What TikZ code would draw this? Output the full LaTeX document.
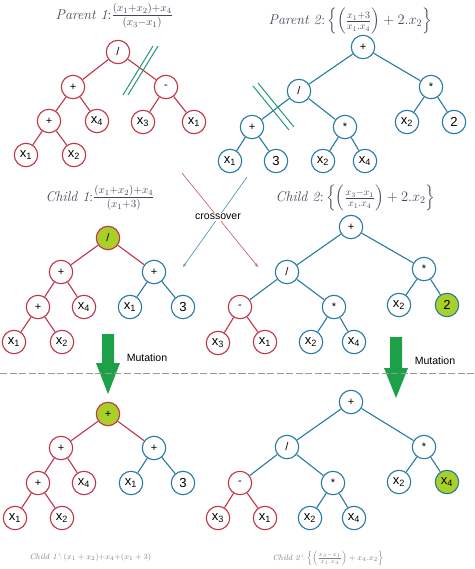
\documentclass[tikz,border=0pt]{standalone}
\usepackage{amsmath}
\usepackage{fontspec}
\setsansfont{Liberation Sans}
\usetikzlibrary{arrows.meta}
\definecolor{gpred}{RGB}{192,52,72}
\definecolor{gpblue}{RGB}{40,122,165}
\definecolor{gplime}{RGB}{168,208,40}
\definecolor{gpgreen}{RGB}{28,160,72}
\definecolor{gpcut}{RGB}{40,150,125}
\definecolor{gptitle}{RGB}{70,72,90}
\newcommand{\xs}[1]{x\textsubscript{#1}}
\newcommand{\bigmath}[1]{{\fontsize{16}{18}\selectfont#1}}
\tikzset{
  gnode/.style={circle, line width=1.1pt, minimum size=0.82cm, inner sep=0pt, fill=white,
    font=\sffamily\fontsize{13}{14}\selectfont},
  rnode/.style={gnode, draw=gpred},
  bnode/.style={gnode, draw=gpblue},
  op/.style={font=\sffamily\fontsize{11}{12}\selectfont},
  mutated/.style={fill=gplime},
  redge/.style={draw=gpred, line width=1.1pt},
  bedge/.style={draw=gpblue, line width=1.1pt},
  cutmark/.style={draw=gpcut, line width=1pt},
  titletext/.style={anchor=west, inner sep=0.5pt, text=gptitle, font=\fontsize{14}{16}\selectfont},
  captext/.style={anchor=west, text=gray, font=\fontsize{8}{9}\selectfont},
  labtext/.style={font=\sffamily\fontsize{10.5}{12}\selectfont}
}

\begin{document}
\begin{tikzpicture}[x=0.035cm, y=-0.035cm]
  \useasboundingbox (0,0) rectangle (474,569);

  % 親1
  \node[titletext] (t1) at (55,16) {\textit{Parent 1}:\bigmath{$\frac{(x_1+x_2)+x_4}{(x_3-x_1)}$}};
  \node[rnode, op] (p1r) at (118,52) {/};
  \node[rnode, op] (p1a) at (73,87) {+};
  \node[rnode, op] (p1b) at (166,87) {-};
  \node[rnode, op] (p1c) at (49,121) {+};
  \node[rnode] (p1d) at (97,121) {\xs{4}};
  \node[rnode] (p1e) at (143,122) {\xs{3}};
  \node[rnode] (p1f) at (194,122) {\xs{1}};
  \node[rnode] (p1g) at (26,155) {\xs{1}};
  \node[rnode] (p1h) at (74,155) {\xs{2}};
  \draw[redge] (p1r) -- (p1a);
  \draw[redge] (p1r) -- (p1b);
  \draw[redge] (p1a) -- (p1c);
  \draw[redge] (p1a) -- (p1d);
  \draw[redge] (p1b) -- (p1e);
  \draw[redge] (p1b) -- (p1f);
  \draw[redge] (p1c) -- (p1g);
  \draw[redge] (p1c) -- (p1h);
  \draw[cutmark] (123,95) -- (153,46);
  \draw[cutmark] (128,95) -- (158,46);

  % 親2
  \node[titletext] (t2) at (268,21) {\textit{Parent 2}:\,$\Bigl\{\Bigl(\frac{x_1+3}{x_1.x_4}\Bigr)+2.x_2\Bigr\}$};
  \node[bnode, op] (p2r) at (363,47) {+};
  \node[bnode, op] (p2a) at (299,91) {/};
  \node[bnode, op] (p2b) at (431,87) {*};
  \node[bnode, op] (p2c) at (252,127) {+};
  \node[bnode, op] (p2d) at (345,127) {*};
  \node[bnode] (p2e) at (407,122) {\xs{2}};
  \node[bnode] (p2f) at (454,122) {2};
  \node[bnode] (p2g) at (230,161) {\xs{1}};
  \node[bnode] (p2h) at (276,161) {3};
  \node[bnode] (p2i) at (323,161) {\xs{2}};
  \node[bnode] (p2j) at (365,161) {\xs{4}};
  \draw[bedge] (p2r) -- (p2a);
  \draw[bedge] (p2r) -- (p2b);
  \draw[bedge] (p2a) -- (p2c);
  \draw[bedge] (p2a) -- (p2d);
  \draw[bedge] (p2b) -- (p2e);
  \draw[bedge] (p2b) -- (p2f);
  \draw[bedge] (p2c) -- (p2g);
  \draw[bedge] (p2c) -- (p2h);
  \draw[bedge] (p2d) -- (p2i);
  \draw[bedge] (p2d) -- (p2j);
  \draw[cutmark] (253,86) -- (289,130);
  \draw[cutmark] (258,83) -- (294,127);

  % 交叉
  \coordinate (xr1) at (182,173);
  \coordinate (xr2) at (258,267);
  \coordinate (xb1) at (247,177);
  \coordinate (xb2) at (183,267);
  \draw[-{Stealth[length=4pt]}, draw=gpred!80, fill=gpred!80, line width=0.6pt] (xr1) -- (xr2);
  \draw[-{Stealth[length=4pt]}, draw=gpblue!80, fill=gpblue!80, line width=0.6pt] (xb1) -- (xb2);
  \node[labtext, fill=white, inner sep=1pt] (xo) at (218,217) {crossover};

  % 子1
  \node[titletext] (t3) at (45,198) {\textit{Child 1}:\bigmath{$\frac{(x_1+x_2)+x_4}{(x_1+3)}$}};
  \node[rnode, op, mutated] (c1r) at (108,238) {/};
  \node[rnode, op] (c1a) at (61,272) {+};
  \node[bnode, op] (c1b) at (154,272) {+};
  \node[rnode, op] (c1c) at (38,307) {+};
  \node[rnode] (c1d) at (84,307) {\xs{4}};
  \node[bnode] (c1e) at (130,307) {\xs{1}};
  \node[bnode] (c1f) at (183,307) {3};
  \node[rnode] (c1g) at (14,342) {\xs{1}};
  \node[rnode] (c1h) at (62,342) {\xs{2}};
  \draw[redge] (c1r) -- (c1a);
  \draw[redge] (c1r) -- (c1b);
  \draw[redge] (c1a) -- (c1c);
  \draw[redge] (c1a) -- (c1d);
  \draw[bedge] (c1b) -- (c1e);
  \draw[bedge] (c1b) -- (c1f);
  \draw[redge] (c1c) -- (c1g);
  \draw[redge] (c1c) -- (c1h);

  % 子2
  \node[titletext] (t4) at (275,198) {\textit{Child 2}:\,$\Bigl\{\Bigl(\frac{x_3-x_1}{x_1.x_4}\Bigr)+2.x_2\Bigr\}$};
  \node[bnode, op] (c2r) at (351,227) {+};
  \node[bnode, op] (c2a) at (287,272) {/};
  \node[bnode, op] (c2b) at (424,269) {*};
  \node[rnode, op] (c2c) at (240,307) {-};
  \node[bnode, op] (c2d) at (334,307) {*};
  \node[bnode] (c2e) at (399,305) {\xs{2}};
  \node[bnode, mutated] (c2f) at (447,305) {2};
  \node[rnode] (c2g) at (218,343) {\xs{3}};
  \node[rnode] (c2h) at (265,342) {\xs{1}};
  \node[bnode] (c2i) at (311,342) {\xs{2}};
  \node[bnode] (c2j) at (354,342) {\xs{4}};
  \draw[bedge] (c2r) -- (c2a);
  \draw[bedge] (c2r) -- (c2b);
  \draw[bedge] (c2a) -- (c2c);
  \draw[bedge] (c2a) -- (c2d);
  \draw[bedge] (c2b) -- (c2e);
  \draw[bedge] (c2b) -- (c2f);
  \draw[redge] (c2c) -- (c2g);
  \draw[redge] (c2c) -- (c2h);
  \draw[bedge] (c2d) -- (c2i);
  \draw[bedge] (c2d) -- (c2j);

  % 突然変異
  \fill[gpgreen] (102,334) -- (114,334) -- (114,363) -- (120,363) -- (108,394)
    -- (96,363) -- (102,363) -- cycle;
  \fill[gpgreen] (390,337) -- (402,337) -- (402,368) -- (408,368) -- (396,398)
    -- (384,368) -- (390,368) -- cycle;
  \node[labtext] (m1) at (147,358) {Mutation};
  \node[labtext] (m2) at (435,361) {Mutation};
  \coordinate (sepL) at (0,373);
  \coordinate (sepR) at (474,373);
  \draw[gray!80, line width=0.7pt, dash pattern=on 7pt off 2.5pt] (sepL) -- (sepR);

  % 子1'
  \node[rnode, op, mutated] (d1r) at (108,414) {+};
  \node[rnode, op] (d1a) at (61,448) {+};
  \node[bnode, op] (d1b) at (154,448) {+};
  \node[rnode, op] (d1c) at (38,483) {+};
  \node[rnode] (d1d) at (84,483) {\xs{4}};
  \node[bnode] (d1e) at (131,483) {\xs{1}};
  \node[bnode] (d1f) at (183,483) {3};
  \node[rnode] (d1g) at (15,518) {\xs{1}};
  \node[rnode] (d1h) at (62,518) {\xs{2}};
  \draw[redge] (d1r) -- (d1a);
  \draw[redge] (d1r) -- (d1b);
  \draw[redge] (d1a) -- (d1c);
  \draw[redge] (d1a) -- (d1d);
  \draw[bedge] (d1b) -- (d1e);
  \draw[bedge] (d1b) -- (d1f);
  \draw[redge] (d1c) -- (d1g);
  \draw[redge] (d1c) -- (d1h);
  \node[captext] (t5) at (26,557) {\textit{Child 1'}:\,$(x_1+x_2){+}x_4{+}(x_1+3)$};

  % 子2'
  \node[bnode, op] (d2r) at (351,402) {+};
  \node[bnode, op] (d2a) at (287,447) {/};
  \node[bnode, op] (d2b) at (424,447) {*};
  \node[rnode, op] (d2c) at (240,483) {-};
  \node[bnode, op] (d2d) at (333,483) {*};
  \node[bnode] (d2e) at (399,482) {\xs{2}};
  \node[bnode, mutated] (d2f) at (447,482) {\xs{4}};
  \node[rnode] (d2g) at (218,518) {\xs{3}};
  \node[rnode] (d2h) at (265,518) {\xs{1}};
  \node[bnode] (d2i) at (310,518) {\xs{2}};
  \node[bnode] (d2j) at (354,518) {\xs{4}};
  \draw[bedge] (d2r) -- (d2a);
  \draw[bedge] (d2r) -- (d2b);
  \draw[bedge] (d2a) -- (d2c);
  \draw[bedge] (d2a) -- (d2d);
  \draw[bedge] (d2b) -- (d2e);
  \draw[bedge] (d2b) -- (d2f);
  \draw[redge] (d2c) -- (d2g);
  \draw[redge] (d2c) -- (d2h);
  \draw[bedge] (d2d) -- (d2i);
  \draw[bedge] (d2d) -- (d2j);
  \node[captext] (t6) at (269,558) {\textit{Child 2'}:\,$\left\{\left(\frac{x_3-x_1}{x_1.x_4}\right)+x_4.x_2\right\}$};
\end{tikzpicture}
\end{document}
